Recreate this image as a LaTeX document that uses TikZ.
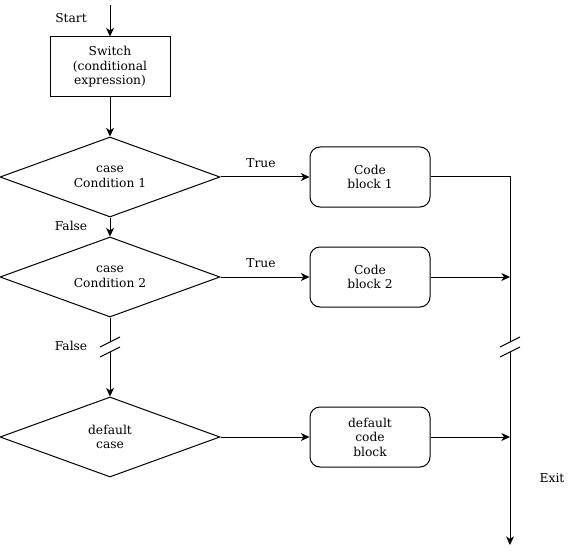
\documentclass[tikz,border=0pt]{standalone}
\usepackage{fontspec}
\setmainfont{DejaVu Serif}
\usetikzlibrary{shapes.geometric, arrows.meta}

\begin{document}
\begin{tikzpicture}[x=0.75pt, y=-0.75pt,
        font=\fontsize{9.2pt}{10.9pt}\selectfont,
        every path/.style={line width=0.75pt},
        flow/.style={-{Stealth[length=6.5pt, width=6pt, inset=2pt]}},
    ]
        \useasboundingbox (0,0) rectangle (571,556);

        % switch
        \node [draw,
            minimum width=90pt,
            minimum height=45pt,
            align=center,
        ] (switch) at (110,67) {Switch\\(conditional\\expression)};

        % case 1
        \node [draw, diamond,
            aspect=2.75, inner sep=0pt,
            minimum width=165pt,
            minimum height=60pt,
            align=center,
        ] (case1) at (110,177) {case\\Condition 1};

        % case 2
        \node [draw, diamond,
            aspect=2.75, inner sep=0pt,
            minimum width=165pt,
            minimum height=60pt,
            align=center,
        ] (case2) at (110,277) {case\\Condition 2};

        % default case
        \node [draw, diamond,
            aspect=2.75, inner sep=0pt,
            minimum width=165pt,
            minimum height=60pt,
            align=center,
        ] (dflt) at (110,437) {default\\case};

        % code blocks
        \node [draw, rounded corners=7.5pt,
            minimum width=90pt,
            minimum height=45pt,
            align=center,
        ] (code1) at (370,177) {Code\\block 1};

        \node [draw, rounded corners=7.5pt,
            minimum width=90pt,
            minimum height=45pt,
            align=center,
        ] (code2) at (370,277) {Code\\block 2};

        \node [draw, rounded corners=7.5pt,
            minimum width=90pt,
            minimum height=45pt,
            align=center,
        ] (codedflt) at (370,437) {default\\code\\block};

        % labels
        \node (start) at (71,18) {Start};
        \node (false1) at (71,226) {False};
        \node (true1) at (261,163) {True};
        \node (true2) at (261,263) {True};
        \node (false2) at (71,346) {False};
        \node (exitlbl) at (552,478) {Exit};

        \coordinate (in) at (110,5);
        \coordinate (leftbrk1) at (110,342);
        \coordinate (leftbrk2) at (110,352);
        \coordinate (corner) at (510,177);
        \coordinate (rightbrk1) at (510,342);
        \coordinate (rightbrk2) at (510,352);
        \coordinate (exit) at (510,545);

        \draw[flow] (in)--(switch.north);
        \draw[flow] (switch.south)--(case1.north);
        \draw[flow] (case1.south)--(case2.north);
        \draw[flow] (case1.east)--(code1.west);
        \draw[flow] (case2.east)--(code2.west);
        \draw[flow] (dflt.east)--(codedflt.west);

        % broken line on the left
        \draw (case2.south)--(leftbrk1);
        \draw[flow] (leftbrk2)--(dflt.north);
        \draw ([shift={(-10,5)}]leftbrk1)--([shift={(10,-5)}]leftbrk1);
        \draw ([shift={(-10,5)}]leftbrk2)--([shift={(10,-5)}]leftbrk2);

        % exit line on the right
        \draw (code1.east)--(corner)--(rightbrk1);
        \draw[flow] (rightbrk2)--(exit);
        \draw ([shift={(-10,5)}]rightbrk1)--([shift={(10,-5)}]rightbrk1);
        \draw ([shift={(-10,5)}]rightbrk2)--([shift={(10,-5)}]rightbrk2);
        \draw[flow] (code2.east)--(code2.east -| exit);
        \draw[flow] (codedflt.east)--(codedflt.east -| exit);
\end{tikzpicture}
\end{document}
